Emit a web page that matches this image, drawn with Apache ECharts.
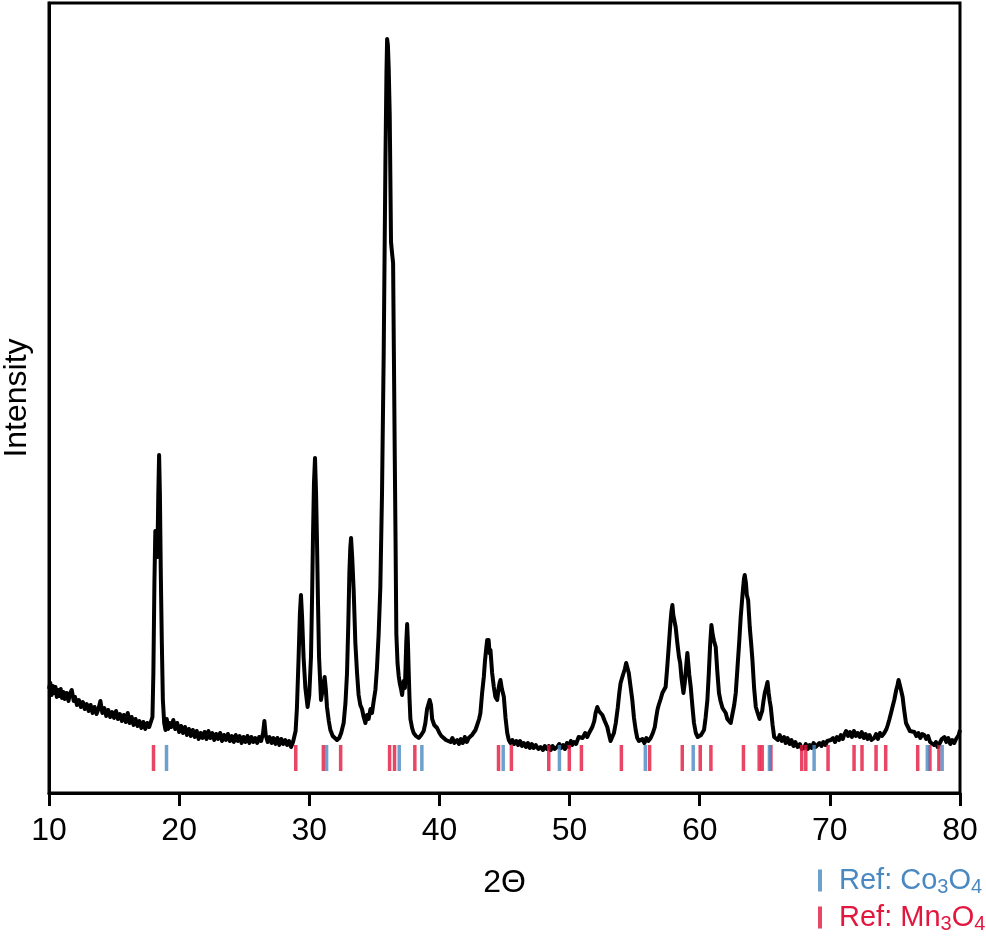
<!DOCTYPE html>
<html>
<head>
<meta charset="utf-8">
<script src="https://cdn.jsdelivr.net/npm/echarts@6/dist/echarts.min.js"></script>
<style>
html,body{margin:0;padding:0;background:#fff;}
#chart{width:986px;height:937px;}
</style>
</head>
<body>
<div id="chart"></div>
<script>
// XRD pattern [2θ, intensity (arb. units)]
var xrdPattern = [
[10.0,104],[10.1,110],[10.2,98],[10.3,107],[10.4,100],[10.5,106],[10.6,96],[10.7,103],[10.8,97],[10.9,104],[11.0,95],[11.1,101],[11.2,94],[11.35,100],[11.5,92],[11.6,99],[11.75,103],[11.9,92],[12.0,96],[12.15,88],[12.3,93],[12.45,86],[12.6,91],[12.75,84],[12.9,89],[13.05,82],[13.2,88],[13.35,80],[13.5,86],[13.65,79],[13.8,84],[13.95,92],[14.1,80],[14.25,85],[14.4,77],[14.55,83],[14.7,76],[14.85,81],[15.0,75],[15.15,82],[15.3,74],[15.45,79],[15.6,72],[15.75,78],[15.9,71],[16.05,80],[16.2,70],[16.35,76],[16.5,68],[16.65,74],[16.8,67],[16.95,72],[17.1,65],[17.25,71],[17.4,64],[17.55,70],[17.7,66],[17.85,72],
[17.95,76],[18.02,120],[18.1,210],[18.17,262],[18.24,252],[18.33,236],[18.4,300],[18.46,338],[18.52,300],[18.59,220],[18.67,150],[18.75,93],[18.85,70],[18.95,63],[19.05,74],[19.15,64],[19.25,70],
[19.4,66],[19.55,73],[19.7,64],[19.85,70],[20.0,61],[20.15,67],[20.3,60],[20.45,66],[20.6,58],[20.75,64],[20.9,57],[21.05,63],[21.2,56],[21.35,62],[21.5,54],[21.65,60],[21.8,55],[21.95,61],[22.1,54],[22.25,62],[22.4,55],[22.55,60],[22.7,53],[22.85,59],[23.0,54],[23.15,60],[23.3,52],[23.45,58],[23.6,53],[23.75,59],[23.9,52],[24.05,57],[24.2,51],[24.35,58],[24.5,52],[24.65,57],[24.8,50],[24.95,56],[25.1,51],[25.25,57],[25.4,50],[25.55,56],[25.7,51],[25.85,55],[26.0,50],[26.15,56],[26.3,52],[26.45,60],[26.55,72],[26.65,58],[26.8,51],[26.95,56],[27.1,50],[27.25,55],[27.4,49],[27.55,55],[27.7,48],[27.85,54],[28.0,49],[28.15,53],[28.3,48],[28.45,52],[28.6,46],[28.75,51],
[28.85,53],[28.95,62],[29.05,85],[29.18,136],[29.28,180],[29.36,198],[29.45,175],[29.56,136],[29.7,105],[29.87,86],[30.0,98],[30.13,136],[30.22,200],[30.28,253],[30.36,310],[30.44,335],[30.52,300],[30.59,253],[30.67,190],[30.75,136],[30.9,93],[31.05,105],[31.18,116],[31.27,104],[31.36,86],[31.5,72],[31.62,63],[31.8,57],[31.95,55],[32.13,53],[32.3,55],[32.45,60],[32.64,70],[32.78,90],[32.9,120],[33.0,170],[33.08,220],[33.15,245],[33.21,255],[33.3,235],[33.41,203],[33.54,150],[33.67,120],[33.79,98],[33.92,88],[34.05,84],[34.18,76],[34.31,70],[34.44,78],[34.56,74],[34.7,84],[34.82,80],[34.95,92],[35.08,103],[35.2,125],[35.33,159],[35.46,206],[35.59,301],[35.72,442],[35.85,631],[35.93,720],[35.98,754],[36.04,748],[36.1,726],[36.18,679],[36.28,551],[36.36,540],[36.44,530],[36.5,440],[36.56,348],[36.63,250],[36.69,159],[36.78,130],[36.87,117],[36.95,110],[37.05,104],[37.13,98],[37.25,112],[37.35,105],[37.45,150],[37.52,169],[37.58,150],[37.64,121],[37.7,95],[37.77,74],[37.9,65],[38.02,60],[38.2,57],[38.41,55],[38.6,58],[38.79,62],[38.92,70],[39.05,84],[39.15,86],[39.25,93],[39.35,88],[39.44,74],[39.6,68],[39.82,65],[40.0,60],[40.15,57],[40.33,55],[40.5,53],[40.65,55],[40.85,51],
[41.0,55],[41.15,50],[41.36,53],[41.5,49],[41.65,54],[41.8,50],[41.95,56],[42.1,51],[42.25,55],[42.38,53],[42.5,58],[42.65,57],[42.77,63],[42.9,68],[43.05,74],[43.15,80],[43.28,100],[43.41,116],[43.5,132],[43.6,145],[43.67,153],[43.72,150],[43.78,153],[43.85,140],[43.92,143],[44.05,120],[44.18,106],[44.3,96],[44.44,93],[44.55,105],[44.62,110],[44.69,113],[44.8,104],[44.88,100],[44.95,96],[45.08,75],[45.21,60],[45.33,53],[45.46,50],[45.6,53],[45.75,49],[45.9,52],[46.05,48],[46.2,52],[46.35,47],[46.48,50],[46.65,46],[46.8,50],[46.95,45],[47.1,49],[47.25,45],[47.4,48],[47.6,44],[47.77,46],[47.95,43],[48.1,47],[48.25,44],[48.4,47],[48.55,43],[48.7,47],[48.85,44],[49.05,46],[49.2,49],[49.35,45],[49.5,48],[49.65,44],[49.8,50],[49.95,46],[50.1,52],[50.2,48],[50.33,51],[50.5,49],[50.7,56],[50.85,58],[51.0,55],[51.2,60],[51.36,56],[51.5,60],[51.65,62],[51.75,66],[51.9,72],[52.0,80],[52.13,86],[52.25,82],[52.35,84],[52.52,78],[52.7,72],[52.9,66],[53.0,60],[53.15,52],[53.28,56],[53.41,60],[53.55,70],[53.7,85],[53.82,100],[53.92,110],[54.1,118],[54.25,124],[54.35,130],[54.44,128],[54.55,120],[54.7,105],[54.82,93],[54.95,75],[55.08,63],[55.2,55],[55.33,52],[55.46,50],
[55.6,54],[55.75,50],[55.9,55],[56.05,52],[56.23,55],[56.4,60],[56.55,66],[56.65,75],[56.75,83],[56.85,88],[57.0,94],[57.13,100],[57.25,102],[57.38,106],[57.5,125],[57.64,150],[57.75,170],[57.83,182],[57.9,188],[57.97,178],[58.05,176],[58.15,166],[58.28,150],[58.41,136],[58.5,130],[58.6,115],[58.75,100],[58.85,110],[58.95,125],[59.05,140],[59.12,130],[59.2,118],[59.31,106],[59.45,85],[59.56,70],[59.7,60],[59.85,56],[59.95,55],[60.1,58],[60.2,60],[60.33,63],[60.45,75],[60.59,93],[60.7,120],[60.8,148],[60.9,168],[61.0,158],[61.1,152],[61.23,146],[61.35,122],[61.48,100],[61.6,92],[61.75,85],[61.88,83],[62.0,80],[62.12,74],[62.25,72],[62.38,70],[62.5,78],[62.65,88],[62.77,100],[62.9,125],[63.03,150],[63.15,176],[63.3,200],[63.4,214],[63.46,218],[63.55,210],[63.62,198],[63.72,193],[63.85,165],[63.95,150],[64.05,133],[64.18,105],[64.31,86],[64.45,80],[64.6,74],[64.69,73],[64.8,82],[64.9,92],[65.0,100],[65.1,105],[65.21,111],[65.3,100],[65.38,92],[65.46,86],[65.6,68],[65.72,56],[65.85,58],[66.0,53],[66.15,58],[66.3,52],[66.48,56],[66.6,50],[66.75,55],[66.9,49],[67.05,53],[67.2,47],[67.35,51],[67.52,46],
[67.7,49],[67.85,44],[68.02,45],[68.15,49],[68.3,44],[68.45,48],[68.6,45],[68.75,50],[68.9,46],[69.05,46],[69.2,50],[69.35,47],[69.5,51],[69.65,48],[69.8,52],[69.95,50],[70.08,53],[70.25,55],[70.4,51],[70.55,56],[70.7,53],[70.85,58],[71.0,54],[71.1,58],[71.25,62],[71.4,57],[71.55,61],[71.7,56],[71.85,62],[72.0,57],[72.13,60],[72.3,56],[72.45,61],[72.6,55],[72.75,59],[72.9,54],[73.05,58],[73.2,53],[73.41,55],[73.55,59],[73.7,54],[73.85,60],[74.0,57],[74.18,60],[74.35,64],[74.45,68],[74.56,73],[74.7,80],[74.85,88],[74.95,93],[75.1,103],[75.2,108],[75.28,113],[75.35,112],[75.45,104],[75.59,96],[75.7,84],[75.85,70],[76.0,66],[76.15,62],[76.3,64],[76.49,61],[76.65,57],[76.8,60],[76.95,55],[77.1,59],[77.26,58],[77.4,54],[77.55,57],[77.7,51],[77.85,53],[78.0,48],[78.15,51],[78.28,46],[78.45,50],[78.6,54],[78.8,56],[78.95,51],[79.1,55],[79.25,49],[79.4,53],[79.56,50],[79.7,54],[79.8,52],[79.9,58],[80.0,63]
];

// Reference peak positions (2θ)
var co3o4Peaks = [19.03, 31.33, 36.91, 38.65, 44.90, 49.22, 55.82, 59.50, 65.36, 68.79, 77.49, 78.63];
var mn3o4Peaks = [18.03, 28.96, 31.08, 32.41, 36.17, 36.55, 38.11, 44.54, 45.53, 48.40, 49.98, 50.91, 53.98, 56.15, 58.66, 60.04, 60.86, 63.36, 64.57, 64.80, 65.47, 67.84, 68.15, 69.86, 71.86, 72.47, 73.55, 74.29, 76.75, 77.69, 78.38];

var xTicks = [10, 20, 30, 40, 50, 60, 70, 80];

var BLUE = '#4A88C2';
var RED = '#E3173E';
var FONT = 'Liberation Sans';
var REF_LEVEL = 35; // vertical position of reference markers (intensity units)

function refData(arr){ return arr.map(function(v){ return [v, REF_LEVEL]; }); }

function legendRich(color){
  return {
    p: {width: 12, fontSize: 29, lineHeight: 34},
    n: {color: color, fontSize: 29, fontFamily: FONT, lineHeight: 34},
    s: {color: color, fontSize: 20, fontFamily: FONT, lineHeight: 14, verticalAlign: 'bottom'}
  };
}

var chart = echarts.init(document.getElementById('chart'), null, {renderer: 'canvas'});
chart.setOption({
  animation: false,
  backgroundColor: '#fff',
  grid: {left: 49, right: 26, top: 3, bottom: 144, show: true, borderColor: '#000', borderWidth: 3,
         containLabel: false, outerBoundsMode: 'none'},
  legend: [
    {
      data: ['Co3O4'], orient: 'vertical', left: 813, top: 861,
      icon: 'rect', itemWidth: 4, itemHeight: 22, itemGap: 8,
      formatter: function(){ return '{p|}{n|Ref: Co}{s|3}{n|O}{s|4}'; },
      textStyle: {color: BLUE, fontFamily: FONT, fontSize: 29, rich: legendRich(BLUE)}
    },
    {
      data: ['Mn3O4'], orient: 'vertical', left: 813, top: 898,
      icon: 'rect', itemWidth: 4, itemHeight: 22, itemGap: 8,
      formatter: function(){ return '{p|}{n|Ref: Mn}{s|3}{n|O}{s|4}'; },
      textStyle: {color: RED, fontFamily: FONT, fontSize: 29, rich: legendRich(RED)}
    }
  ],
  xAxis: {
    type: 'value', min: xTicks[0], max: xTicks[xTicks.length-1], interval: 10,
    name: '2Θ', nameLocation: 'middle', nameGap: 74,
    nameTextStyle: {color: '#000', fontFamily: FONT, fontSize: 32},
    axisLine: {show: true, lineStyle: {color: '#000', width: 3}},
    axisTick: {show: true, inside: false, length: 13, lineStyle: {color: '#000', width: 3}},
    axisLabel: {color: '#000', fontFamily: FONT, fontSize: 32, margin: 22},
    splitLine: {show: false}
  },
  yAxis: {
    type: 'value', min: 0, max: 790,
    name: 'Intensity', nameLocation: 'middle', nameGap: 16,
    nameTextStyle: {color: '#000', fontFamily: FONT, fontSize: 32},
    axisLine: {show: true, lineStyle: {color: '#000', width: 3}},
    axisTick: {show: false}, axisLabel: {show: false}, splitLine: {show: false}
  },
  series: [
    {
      name: 'Pattern', type: 'line', data: xrdPattern, showSymbol: false, symbol: 'none',
      lineStyle: {color: '#000', width: 4, join: 'round'}, z: 2, silent: true
    },
    {
      name: 'Mn3O4', type: 'scatter', data: refData(mn3o4Peaks), symbol: 'rect', symbolSize: [3.5, 26],
      itemStyle: {color: RED}, z: 3, silent: true
    },
    {
      name: 'Co3O4', type: 'scatter', data: refData(co3o4Peaks), symbol: 'rect', symbolSize: [3.5, 26],
      itemStyle: {color: BLUE}, z: 4, silent: true
    }
  ]
});
</script>
</body>
</html>
